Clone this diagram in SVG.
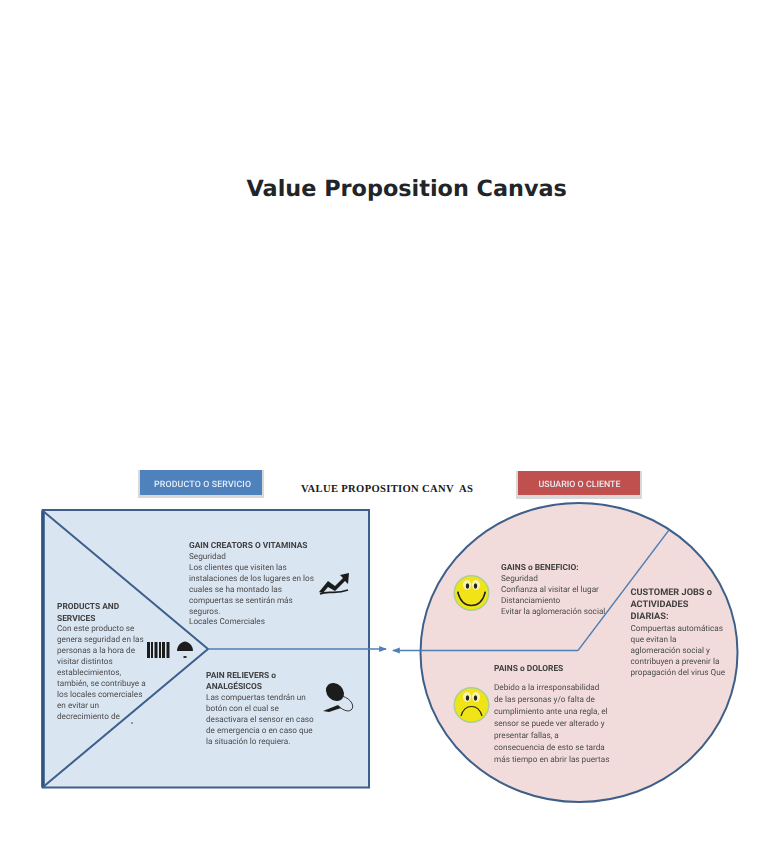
<svg xmlns="http://www.w3.org/2000/svg" width="768" height="866" viewBox="0 0 768 866">
<style>
text{font-family:Roboto,"Liberation Sans",sans-serif;fill:#4a4a4a;font-size:8.2px;text-rendering:geometricPrecision}
.b{font-weight:700;fill:#3f3f3f;font-size:8.4px}
.title{font-family:"DejaVu Sans",sans-serif;font-weight:700;font-size:22.35px;fill:#212529}
.tag{font-weight:500;font-size:8.8px;fill:#e8eef6;text-anchor:middle}
.head{font-family:"Liberation Serif",serif;font-weight:700;font-size:10.6px;fill:#1a1a1a;white-space:pre}
.edge{fill:none;stroke:#4f7fb5;stroke-width:1.3}
.frame{stroke:#3d5f8c;stroke-width:2;fill:none}
</style>
<defs>
<filter id="soft" x="-5%" y="-5%" width="110%" height="110%"><feGaussianBlur stdDeviation="0.3"/></filter>
<filter id="soft2" x="-20%" y="-20%" width="140%" height="140%"><feGaussianBlur stdDeviation="0.5"/></filter>
<marker id="ah" viewBox="0 0 8 8" refX="7" refY="4" markerWidth="6" markerHeight="6" orient="auto-start-reverse"><path d="M0 0.8L8 4L0 7.2Z" fill="#4f7fb5"/></marker>
<g id="face"><circle r="18" fill="#a9cf9a"/><circle r="16.6" fill="#f1e414"/><ellipse cx="-4.5" cy="-8" rx="4" ry="5" fill="#f8f4b0"/><ellipse cx="4.5" cy="-8" rx="4" ry="5" fill="#f8f4b0"/><ellipse cx="-4" cy="-7" rx="1.7" ry="2.7" fill="#222"/><ellipse cx="4" cy="-7" rx="1.7" ry="2.7" fill="#222"/></g>
</defs>

<text class="title" x="246.500" y="196">Value Proposition Canvas</text>

<g id="heading"><text class="head" x="301" y="492" textLength="172">VALUE PROPOSITION CANV  AS</text></g>

<g id="tag-producto">
<rect x="138" y="470" width="126" height="28" fill="#d9d9d9"/>
<rect x="140" y="470" width="122" height="25" fill="#4f81bd"/>
<text class="tag" x="202.500" y="486.500" textLength="97" filter="url(#soft)">PRODUCTO O SERVICIO</text>
</g>

<g id="tag-usuario">
<rect x="516" y="471" width="126" height="28" fill="#d9d9d9"/>
<rect x="518" y="471" width="122" height="24" fill="#c0504d"/>
<text class="tag" x="579.500" y="486.500" textLength="82" filter="url(#soft)">USUARIO O CLIENTE</text>
</g>

<g id="product-box">
<rect x="42.500" y="510" width="326.500" height="277.500" fill="#dae5f2" stroke="#3d5f8c" stroke-width="2"/>
<path d="M43 511V787" stroke="#2f5483" stroke-width="3.500" fill="none"/>
<path class="frame" d="M43 511L208 649L43 787" stroke-width="2.200"/>
</g>

<g id="customer-circle">
<ellipse cx="579" cy="652.500" rx="158.500" ry="149.500" fill="#f1dcdb" stroke="#3e5f89" stroke-width="2"/>
</g>

<g id="connectors">
<path class="edge" d="M208 649H386" marker-end="url(#ah)"/>
<path class="edge" d="M578 650.500H393" marker-end="url(#ah)"/>
<path class="edge" d="M578 650.500L669 530" stroke="#6b84a8"/>
</g>

<g id="gain-creators" filter="url(#soft)">
<text class="b" x="189" y="548">GAIN CREATORS O VITAMINAS</text>
<text x="189" y="558.500">Seguridad</text>
<text x="189" y="569.500">Los clientes que visiten las</text>
<text x="189" y="580.500">instalaciones de los lugares en los</text>
<text x="189" y="591.500">cuales se ha montado las</text>
<text x="189" y="602.500">compuertas se sentirán más</text>
<text x="189" y="613.500">seguros.</text>
<text x="189" y="624">Locales Comerciales</text>
</g>
<g id="gain-icon" filter="url(#soft2)">
<path d="M319 592L328 581L335 586L343 578L340 575L349 573L348 584L345 581L335 591L328 587L323 593Z" fill="#1e1e1e"/>
<path d="M320 594C328 590 335 595 348 590" stroke="#1e1e1e" stroke-width="1.800" fill="none"/>
</g>

<g id="products-services" filter="url(#soft)">
<text class="b" x="57" y="609">PRODUCTS AND</text>
<text class="b" x="57" y="620.500">SERVICES</text>
<text x="57" y="631">Con este producto se</text>
<text x="57" y="642">genera seguridad en las</text>
<text x="57" y="653">personas a la hora de</text>
<text x="57" y="664">visitar distintos</text>
<text x="57" y="675">establecimientos,</text>
<text x="57" y="686">también, se contribuye a</text>
<text x="57" y="697">los locales comerciales</text>
<text x="57" y="708">en evitar un</text>
<text x="57" y="719">decrecimiento de</text>
<circle cx="132" cy="723" r="0.800" fill="#333"/>
</g>
<g id="product-icons" filter="url(#soft2)">
<path d="M147 642H150V658H147ZM151 642H153V658H151ZM154.500 642H157.500V658H154.500ZM159 642H161V658H159ZM162 642H165V658H162ZM166.500 642H169.500V658H166.500Z" fill="#1e1e1e"/>
<path d="M177 651C177 645 182 641.500 185 641.500C188 641.500 193 645 193 651Z" fill="#1e1e1e"/>
<rect x="183.500" y="656" width="3" height="2" fill="#333"/>
</g>

<g id="pain-relievers" filter="url(#soft)">
<text class="b" x="206" y="678">PAIN RELIEVERS o</text>
<text class="b" x="206" y="689">ANALGÉSICOS</text>
<text x="206" y="700">Las compuertas tendrán un</text>
<text x="206" y="711">botón con el cual se</text>
<text x="206" y="722">desactivara el sensor en caso</text>
<text x="206" y="733">de emergencia o en caso que</text>
<text x="206" y="744">la situación lo requiera.</text>
</g>
<g id="pain-icon" filter="url(#soft2)">
<ellipse cx="335" cy="692" rx="10" ry="8" fill="#1e1e1e" transform="rotate(45 335 692)"/>
<path d="M342 696C352 699 355 707 351 710C347 713 341 708 339 707" stroke="#333" stroke-width="1" fill="none"/>
<path d="M323 711L338 705L341 708L329 712Z" fill="#1e1e1e"/>
</g>

<g id="gains" filter="url(#soft)">
<text class="b" x="501" y="570">GAINS o BENEFICIO:</text>
<text x="501" y="581">Seguridad</text>
<text x="501" y="592">Confianza al visitar el lugar</text>
<text x="501" y="603">Distanciamiento</text>
<text x="501" y="614">Evitar la aglomeración social</text>
</g>
<g id="smile" filter="url(#soft2)" transform="translate(471.500 593)">
<use href="#face"/>
<path d="M-13.500 0C-11 9 -6 12.500 0 12.500C6 12.500 11 9 13.500 0" stroke="#222" stroke-width="1.500" fill="none"/>
<circle cx="-13.500" cy="-0.500" r="1" fill="#222"/><circle cx="13.500" cy="-0.500" r="1" fill="#222"/>
</g>

<g id="pains" filter="url(#soft)">
<text class="b" x="494" y="671">PAINS o DOLORES</text>
<text x="494" y="690">Debido a la irresponsabilidad</text>
<text x="494" y="702">de las personas y/o  falta de</text>
<text x="494" y="714">cumplimiento ante una regla, el</text>
<text x="494" y="726">sensor se puede ver alterado y</text>
<text x="494" y="738">presentar fallas, a</text>
<text x="494" y="750">consecuencia de esto se tarda</text>
<text x="494" y="762">más tiempo en abrir las puertas</text>
</g>
<g id="frown" filter="url(#soft2)" transform="translate(471.500 705)">
<use href="#face"/>
<path d="M-10.500 11C-8.500 4 -4 1.500 0 1.500C4 1.500 8.500 4 10.500 11" stroke="#222" stroke-width="1.200" fill="none"/>
</g>

<g id="customer-jobs" filter="url(#soft)">
<text class="b" x="630.500" y="594.500" style="font-size:9.200px">CUSTOMER JOBS o</text>
<text class="b" x="630.500" y="607" style="font-size:9.200px">ACTIVIDADES</text>
<text class="b" x="630.500" y="619" style="font-size:9.200px">DIARIAS:</text>
<text x="630.500" y="631">Compuertas automáticas</text>
<text x="630.500" y="642">que evitan la</text>
<text x="630.500" y="653">aglomeración social y</text>
<text x="630.500" y="664">contribuyen a prevenir la</text>
<text x="630.500" y="675">propagación del virus Que</text>
</g>
</svg>
